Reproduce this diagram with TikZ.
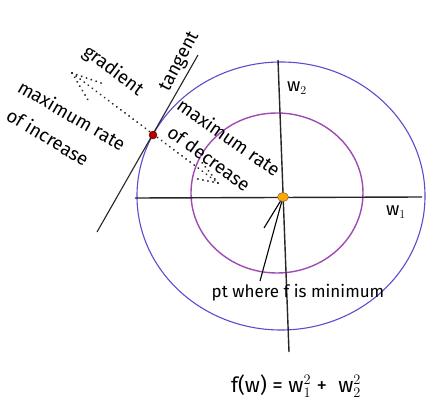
\documentclass[tikz,border=0pt]{standalone}
\usepackage{fontspec}
\setmainfont{Fira Sans}
\usetikzlibrary{shapes.geometric}
\definecolor{outercol}{RGB}{95,75,205}
\definecolor{innercol}{RGB}{160,75,180}
\begin{document}
\begin{tikzpicture}[x=1pt,y=-1pt,
  hand/.style={font=\fontsize{18.5}{20}\selectfont, inner sep=0pt, text=black},
  handsm/.style={font=\fontsize{17}{18}\selectfont, inner sep=0pt, text=black},
  handlg/.style={font=\fontsize{21}{22}\selectfont, inner sep=0pt, text=black},
  axisline/.style={line width=1.4pt, black!85},
  grad/.style={line width=2pt, dash pattern=on 0.1pt off 5pt, line cap=round, black!85},
  outer/.style={draw=outercol, line width=1.1pt},
  inner/.style={draw=innercol, line width=1.4pt}]
\useasboundingbox (0,0) rectangle (442,412);
\fill[white] (0,0) rectangle (442,412);
% circles
\draw[outer] (281,196) ellipse [x radius=144, y radius=134];
\draw[inner] (277,193) ellipse [x radius=86, y radius=80];
% axes
\coordinate (hl) at (135,198);
\coordinate (hr) at (422,197);
\coordinate (vt) at (278,60);
\coordinate (vb) at (289,352);
\draw[axisline] (hl) -- (hr);
\draw[axisline] (vt) -- (vb);
% tangent
\coordinate (tb) at (97,232);
\coordinate (tt) at (198,55);
\draw[line width=1.1pt, black!85] (tb) -- (tt);
% gradient dotted
\coordinate (ga) at (72,73);
\coordinate (gb1) at (101,83);
\coordinate (gb2) at (88,100);
\coordinate (gd) at (218,183);
\coordinate (gd1) at (200,160);
\coordinate (gd2) at (193,178);
\draw[grad] (ga) -- (gd);
\draw[grad] (ga) -- (gb1);
\draw[grad] (ga) -- (gb2);
\draw[grad] (gd) -- (gd1);
\draw[grad] (gd) -- (gd2);
% points
\node[circle, fill=red!70!black, draw=red!40!black, minimum size=8pt, inner sep=0pt] (rp) at (153,135) {};
\node[ellipse, fill=orange!70!yellow, draw=black!70, minimum width=11pt, minimum height=9pt, inner sep=0pt] (mn) at (283,197) {};
% pointer
\coordinate (p1) at (264,228);
\coordinate (p2) at (260,281);
\draw[line width=1.1pt] (mn) -- (p1);
\draw[line width=1.1pt] (mn) -- (p2);
% labels
\node[hand, rotate=-37] (lg) at (113,71) {gradient};
\node[hand, rotate=62] (lt) at (180,62) {tangent};
\node[hand, rotate=-30] (li1) at (72,115) {maximum rate};
\node[hand, rotate=-31] (li2) at (48,137) {of increase};
\node[hand, rotate=-35] (ld1) at (229,137) {maximum rate};
\node[hand, rotate=-36] (ld2) at (209,158) {of decrease};
\node[hand] (lw2) at (297,88) {w$_2$};
\node[hand] (lw1) at (396,212) {w$_1$};
\node[handsm] (lpt) at (298,293) {pt where f is minimum};
\node[handlg] (lf) at (296,386) {f(w) = w$_1^2$ + \ w$_2^2$};
\end{tikzpicture}
\end{document}
